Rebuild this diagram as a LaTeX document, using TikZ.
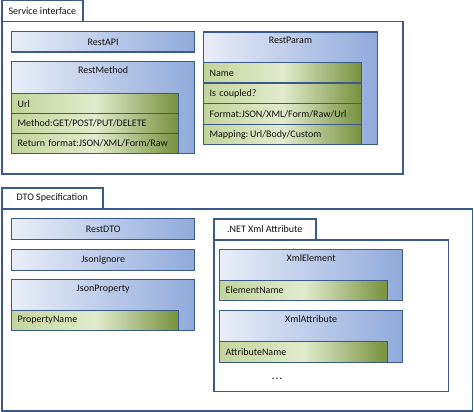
\documentclass[tikz,border=0pt]{standalone}
\usepackage{fontspec}
\setmainfont{Carlito}
\definecolor{bord}{HTML}{3A5A8C}
\definecolor{blueL}{HTML}{E9EEF8}
\definecolor{blueR}{HTML}{90AADB}
\definecolor{greenL}{HTML}{C2D59A}
\definecolor{greenM}{HTML}{E2EBCD}
\definecolor{greenR}{HTML}{77913D}
\definecolor{txt}{HTML}{111111}
\begin{document}
\begin{tikzpicture}[x=1pt,y=-1pt, font=\fontsize{10}{12}\selectfont, text=txt,
 frame/.style={draw=bord, line width=1.5pt, fill=white, anchor=north west, inner sep=0pt},
 tabbox/.style={frame, align=center},
 bluebox/.style={draw=bord, line width=1.3pt, left color=blueL, right color=blueR, anchor=north west, inner sep=0pt, minimum width=183pt},
 greenrow/.style={draw=bord, line width=1.3pt, left color=greenL, right color=greenR, middle color=greenM, anchor=north west, minimum height=20pt, text width=#1, align=left, inner xsep=6pt, inner ysep=0pt},
 greenrow/.default=155pt,
 boxtitle/.style={anchor=north, inner sep=0pt, yshift=-5.5pt}
]
\useasboundingbox (0,0) rectangle (474,412);

% ---------- Service interface ----------
\node[frame, minimum width=401pt, minimum height=152pt] (svcbox) at (1,21) {};
\node[tabbox, minimum width=81pt, minimum height=21pt] (svctab) at (1,0) {Service interface};

\node[bluebox, minimum height=20.5pt] (restapi) at (11,31) {RestAPI};

\node[bluebox, minimum height=91.5pt] (restmethod) at (11,61) {};
\node[boxtitle] (restmethodt) at (restmethod.north) {RestMethod};
\node[greenrow, minimum height=20pt] (url) at (11,93) {Url};
\node[greenrow, minimum height=20pt] (method) at (11,113) {Method:GET/POST/PUT/DELETE};
\node[greenrow, minimum height=19.5pt] (retfmt) at (11,133) {Return format:JSON/XML/Form/Raw};

\node[bluebox, minimum width=173.5pt, minimum height=112.5pt] (restparam) at (203,31.5) {};
\node[boxtitle] (restparamt) at (restparam.north) {RestParam};
\node[greenrow=146pt, minimum height=20.5pt] (name) at (203,62) {Name};
\node[greenrow=146pt, minimum height=20.5pt] (coupled) at (203,82.5) {Is coupled?};
\node[greenrow=146pt, minimum height=20.5pt] (format) at (203,103) {Format:JSON/XML/Form/Raw/Url};
\node[greenrow=146pt, minimum height=20.5pt] (mapping) at (203,123.5) {Mapping:\,Url/Body/Custom};

% ---------- DTO Specification ----------
\node[frame, minimum width=470.5pt, minimum height=202pt] (dtobox) at (1,208) {};
\node[tabbox, minimum width=101pt, minimum height=21pt] (dtotab) at (1,187) {DTO Specification};

\node[bluebox, minimum height=21pt] (restdto) at (11,218) {RestDTO};
\node[bluebox, minimum height=21pt] (jsonignore) at (11,248.5) {JsonIgnore};
\node[bluebox, minimum height=51pt] (jsonproperty) at (11,279) {};
\node[boxtitle] (jsonpropertyt) at (jsonproperty.north) {JsonProperty};
\node[greenrow, minimum height=20.5pt] (propname) at (11,309.5) {PropertyName};

\node[frame, minimum width=234.5pt, minimum height=151.5pt] (xmlbox) at (213,239) {};
\node[tabbox, minimum width=102pt, minimum height=21pt] (xmltab) at (213,218) {.NET Xml Attribute};

\node[bluebox, minimum height=50.5pt] (xmlelement) at (219,249) {};
\node[boxtitle] (xmlelementt) at (xmlelement.north) {XmlElement};
\node[greenrow=156pt, minimum height=20.5pt] (elemname) at (219,279.5) {ElementName};

\node[bluebox, minimum height=52pt] (xmlattribute) at (219,309.5) {};
\node[boxtitle] (xmlattributet) at (xmlattribute.north) {XmlAttribute};
\node[greenrow=156pt, minimum height=20.5pt] (attrname) at (219,341) {AttributeName};

\node[inner sep=0pt] (dots) at (277,379) {\textbf{.\kern1.2pt.\kern1.2pt.}};
\end{tikzpicture}
\end{document}
